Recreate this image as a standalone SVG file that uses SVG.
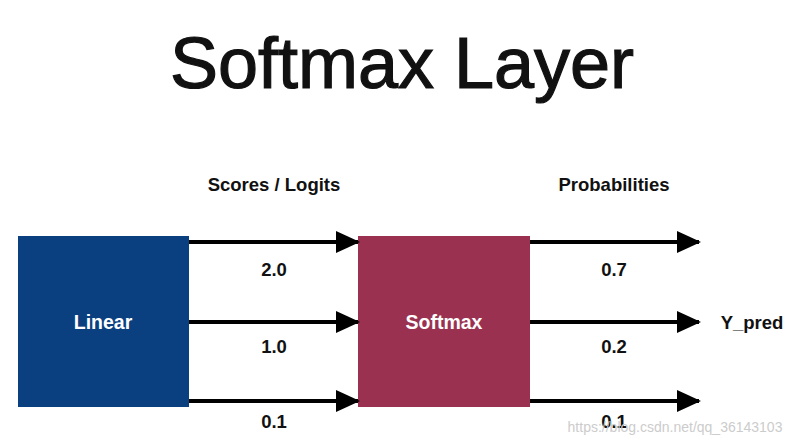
<svg xmlns="http://www.w3.org/2000/svg" width="810" height="446" viewBox="0 0 810 446">
<defs>
<marker id="ah" markerWidth="24" markerHeight="22" refX="22" refY="11" orient="auto" markerUnits="userSpaceOnUse"><path d="M0,0 L24,11 L0,22 Z" fill="#000"/></marker>
<style>
text{font-family:"Liberation Sans",Arial,sans-serif;font-weight:bold;text-anchor:middle}
.lbl{font-size:18.5px;fill:#111}
.box{font-size:19.5px;fill:#fff}
.c line{stroke:#000;stroke-width:4;marker-end:url(#ah)}
</style>
</defs>
<rect width="810" height="446" fill="#fff"/>
<text x="402" y="88" style="font-size:72px;font-weight:normal;stroke:#111;stroke-width:1.2" fill="#111">Softmax Layer</text>
<text class="lbl" x="274" y="191">Scores / Logits</text>
<text class="lbl" x="614" y="191">Probabilities</text>
<g id="linear"><rect x="18" y="236" width="171" height="171" fill="#0a3f80"/><text class="box" x="103" y="329">Linear</text></g>
<g id="softmax"><rect x="358" y="236" width="172" height="171" fill="#9b3151"/><text class="box" x="444" y="329">Softmax</text></g>
<g class="c" id="connectors">
<line x1="189" y1="242" x2="358" y2="242"/>
<line x1="189" y1="322" x2="358" y2="322"/>
<line x1="189" y1="401" x2="358" y2="401"/>
<line x1="530" y1="242" x2="699" y2="242"/>
<line x1="530" y1="322" x2="699" y2="322"/>
<line x1="530" y1="401" x2="699" y2="401"/>
</g>
<text class="lbl" x="274" y="276">2.0</text>
<text class="lbl" x="274" y="353">1.0</text>
<text class="lbl" x="274" y="428">0.1</text>
<text class="lbl" x="614" y="276">0.7</text>
<text class="lbl" x="614" y="353">0.2</text>
<text class="lbl" x="614" y="428">0.1</text>
<text class="lbl" x="752" y="329">Y_pred</text>
<text x="675" y="432" style="font-size:14px;font-weight:normal" fill="#ccc">https://blog.csdn.net/qq_36143103</text>
</svg>
